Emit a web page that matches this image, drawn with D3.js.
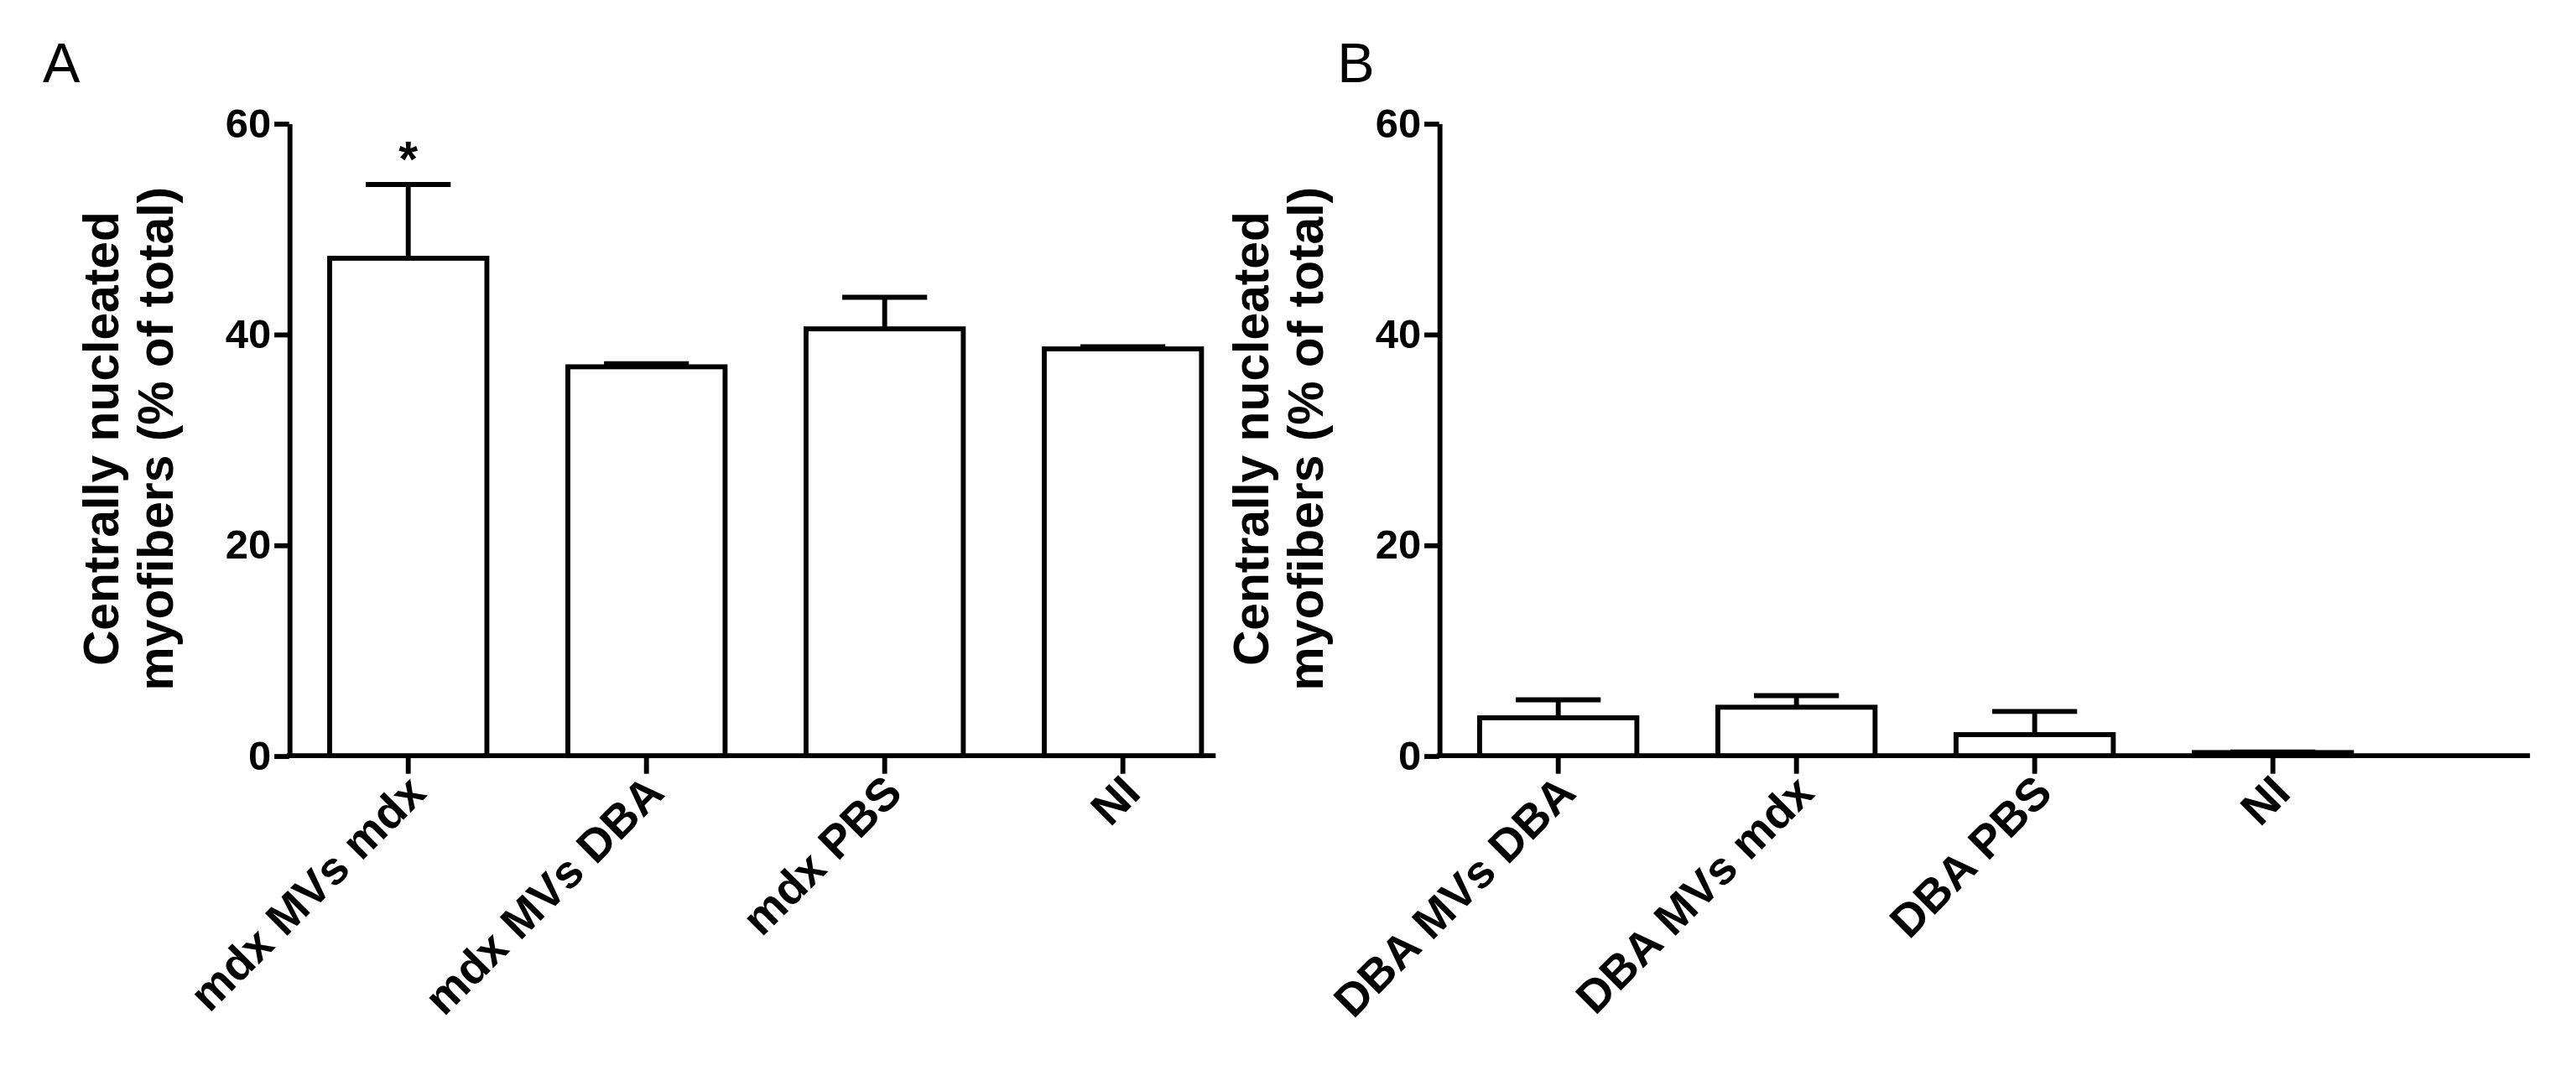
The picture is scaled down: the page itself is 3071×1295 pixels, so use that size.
<!DOCTYPE html>
<html><head><meta charset="utf-8">
<script src="https://cdn.jsdelivr.net/npm/d3@7"></script>
<style>body{margin:0;background:#fff}svg{display:block}</style>
</head><body>
<script>
var catsA = ["mdx MVs mdx", "mdx MVs DBA", "mdx PBS", "NI"];
var meanA = [47.2, 36.9, 40.5, 38.6];
var errA = [54.2, 37.2, 43.5, 38.8];
var catsB = ["DBA MVs DBA", "DBA MVs mdx", "DBA PBS", "NI"];
var meanB = [3.6, 4.6, 2.0, 0.3];
var errB = [5.3, 5.7, 4.2, 0.35];
var yTicks = [0, 20, 40, 60];

var svg = d3.select("body").append("svg")
  .attr("width", 3071).attr("height", 1295)
  .attr("viewBox", "0 0 1568 661");

var font = "'Liberation Sans', Arial, sans-serif";

function panel(letter, letterX, left, right, cats, mean, err, star) {
  var g = svg.append("g");
  g.append("text").attr("x", letterX).attr("y", 50)
    .attr("font-family", font).attr("font-size", 34).text(letter);

  var y = d3.scaleLinear().domain([0, 60]).range([460, 75]);
  var x = d3.scaleBand().domain(cats).range([left, left + 580]).paddingInner(0.34).paddingOuter(0.17);

  var yAxis = g.append("g").attr("transform", "translate(" + left + ",0)")
    .call(d3.axisLeft(y).tickValues(yTicks).tickSize(9).tickSizeOuter(0));
  var xAxis = g.append("g").attr("transform", "translate(0,460)")
    .call(d3.axisBottom(x).tickSize(11).tickSizeOuter(0).tickFormat(""));
  [yAxis, xAxis].forEach(function (a) {
    a.select(".domain").attr("stroke", "#000").attr("stroke-width", 3);
    a.selectAll(".tick line").attr("stroke", "#000").attr("stroke-width", 3);
  });
  xAxis.select(".domain").attr("d", "M" + (left - 1.5) + ",0H" + right);
  yAxis.selectAll(".tick text").attr("font-family", font).attr("font-weight", "bold")
    .attr("font-size", 25).attr("fill", "#000").attr("x", -11);

  // error bars (upper only)
  g.selectAll(".err").data(cats).enter().append("path")
    .attr("fill", "none").attr("stroke", "#000").attr("stroke-width", 3)
    .attr("d", function (d, i) {
      var cx = x(d) + x.bandwidth() / 2, w = x.bandwidth() * 0.27;
      return "M" + cx + "," + y(mean[i]) + "V" + y(err[i]) + "M" + (cx - w) + "," + y(err[i]) + "H" + (cx + w);
    });

  g.selectAll(".bar").data(cats).enter().append("rect")
    .attr("x", function (d) { return x(d); })
    .attr("width", x.bandwidth())
    .attr("y", function (d, i) { return y(mean[i]); })
    .attr("height", function (d, i) { return 460 - y(mean[i]); })
    .attr("fill", "#fff").attr("stroke", "#000").attr("stroke-width", 3);

  g.selectAll(".lab").data(cats).enter().append("text")
    .attr("transform", function (d) {
      return "translate(" + (x(d) + x.bandwidth() / 2 + 12) + ",484) rotate(-45)";
    })
    .attr("text-anchor", "end").attr("font-family", font).attr("font-weight", "bold")
    .attr("font-size", 28).text(function (d) { return d; });

  if (star) {
    g.append("text").attr("x", x(cats[0]) + x.bandwidth() / 2).attr("y", 107)
      .attr("text-anchor", "middle").attr("font-family", font).attr("font-size", 30)
      .attr("font-weight", "bold").text("*");
  }

  var t = g.append("text").attr("transform", "translate(" + (left - 104) + ",267) rotate(-90)")
    .attr("text-anchor", "middle").attr("font-family", font).attr("font-weight", "bold")
    .attr("font-size", 30);
  t.append("tspan").attr("x", 0).attr("dy", 0).text("Centrally nucleated");
  t.append("tspan").attr("x", 0).attr("dy", 33).text("myofibers (%  of total)");
}

panel("A", 26, 176, 740, catsA, meanA, errA, true);
panel("B", 814, 876, 1540, catsB, meanB, errB, false);
</script>
</body></html>
